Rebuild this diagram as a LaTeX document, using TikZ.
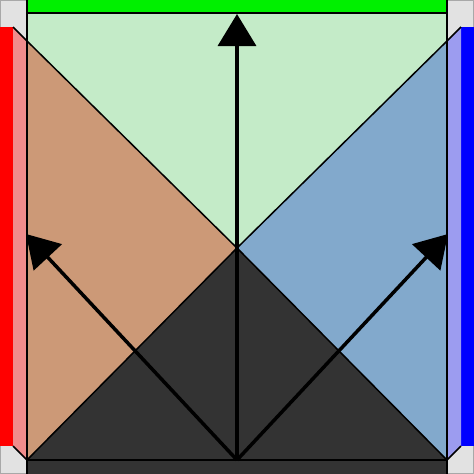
\documentclass[tikz,border=0pt]{standalone}
\usetikzlibrary{arrows.meta}
\definecolor{bggray}{HTML}{E2E2E2}
\definecolor{framegray}{HTML}{A8A8A8}
\definecolor{lgreen}{HTML}{C4EBC8}
\definecolor{brgreen}{HTML}{00F000}
\definecolor{tanc}{HTML}{CC9977}
\definecolor{lbluec}{HTML}{82A9CC}
\definecolor{darkc}{HTML}{333333}
\definecolor{redc}{HTML}{FF0000}
\definecolor{pinkc}{HTML}{F08C8C}
\definecolor{bluec}{HTML}{0000FF}
\definecolor{pblue}{HTML}{9C9CF0}
\begin{document}
\begin{tikzpicture}[x=1pt,y=-1pt,
  edge/.style={draw=black,line width=1.5pt},
  arr/.style={line width=3.5pt,-{Triangle[length=32pt,width=38pt]}}]
\useasboundingbox (0,0) rectangle (474,474);
\fill[bggray] (0,0) rectangle (474,474);
\draw[framegray,line width=1pt] (0.5,0.5) rectangle (473.5,473.5);
% named points
\coordinate (C) at (237,248);
\coordinate (TL) at (27,41);
\coordinate (TR) at (447,41);
\coordinate (BL) at (27,460);
\coordinate (BR) at (447,460);
\coordinate (base) at (237,460);
\coordinate (tipU) at (237,14);
\coordinate (tipL) at (26,234);
\coordinate (tipR) at (448,234);
% regions
\fill[lgreen] (27,14) -- (447,14) -- (TR) -- (C) -- (TL) -- cycle;
\fill[tanc] (TL) -- (C) -- (BL) -- cycle;
\fill[lbluec] (TR) -- (C) -- (BR) -- cycle;
\fill[darkc] (BL) -- (C) -- (BR) -- cycle;
\fill[brgreen] (27,0) rectangle (447,13);
\fill[darkc] (27,460) rectangle (447,474);
\fill[redc] (0,27) rectangle (13,446);
\fill[pinkc] (13,27) -- (TL) -- (BL) -- (13,446) -- cycle;
\fill[bluec] (461,27) rectangle (474,446);
\fill[pblue] (461,27) -- (TR) -- (BR) -- (461,446) -- cycle;
% outlines
\draw[edge] (27,0) -- (27,474);
\draw[edge] (447,0) -- (447,474);
\draw[edge] (27,13) -- (447,13);
\draw[edge] (27,460) -- (447,460);
\draw[edge] (13,27) -- (TL) -- (C) -- (TR) -- (461,27);
\draw[edge] (13,446) -- (BL) -- (C) -- (BR) -- (461,446);
% arrows
\draw[arr] (base) -- (tipU);
\draw[arr] (base) -- (tipL);
\draw[arr] (base) -- (tipR);
\end{tikzpicture}
\end{document}
